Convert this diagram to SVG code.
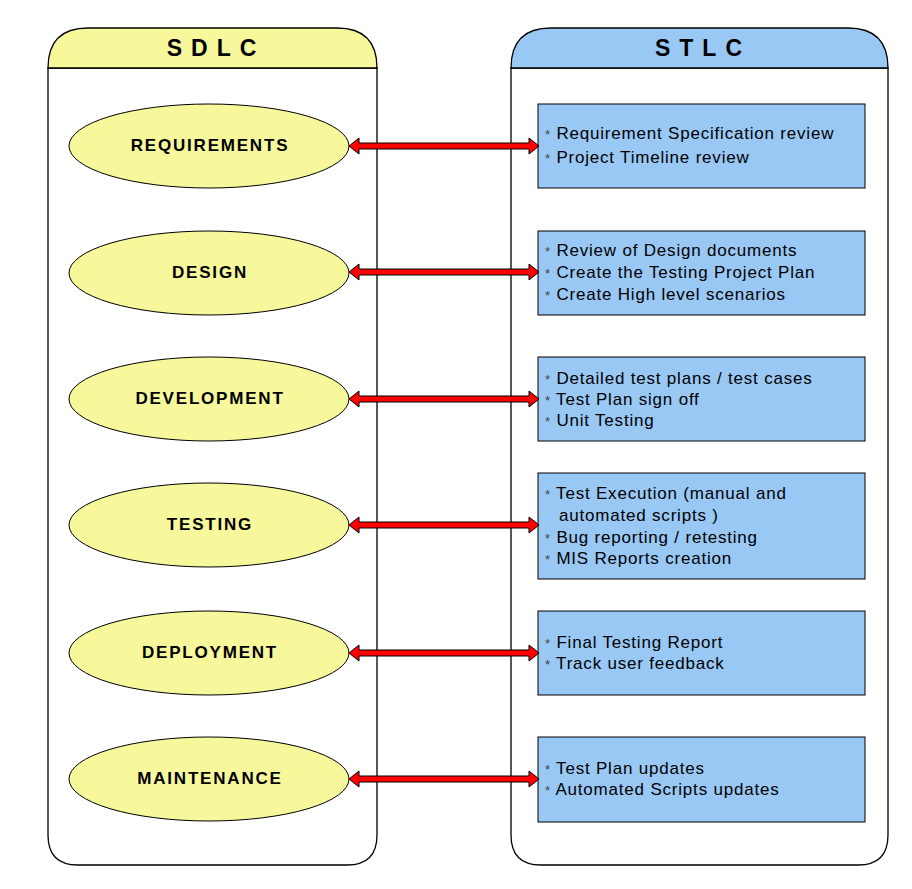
<svg xmlns="http://www.w3.org/2000/svg" width="912" height="889" viewBox="0 0 912 889">
<style>
.panel{fill:#fff;stroke:#000;stroke-width:1.3}
.hdr{stroke:#000;stroke-width:1.3}
.ht{font-family:"Liberation Sans",Arial,sans-serif;font-weight:bold;font-size:23px;text-anchor:middle;letter-spacing:9px}
.ell{fill:#f7f79c;stroke:#000;stroke-width:1}
.et{font-family:"Liberation Sans",Arial,sans-serif;font-weight:bold;font-size:17px;text-anchor:middle;letter-spacing:1.8px}
.box{fill:#99c8f5;stroke:#000;stroke-width:1}
.bt{font-family:"Liberation Sans",Arial,sans-serif;font-size:17px;letter-spacing:0.8px}
.ast{fill:#444;font-size:13px}
.arr{fill:#f00;stroke:#000;stroke-width:1}
</style>
<g id="sdlc">
<path class="panel" d="M48,68 V835 Q48,865 78,865 H347 Q377,865 377,835 V68 Z"/>
<path class="hdr" fill="#f7f79c" d="M48,68 V68 Q48,28 88,28 H337 Q377,28 377,68 Z"/>
<text class="ht" x="216" y="56">SDLC</text>
</g>
<g id="stlc">
<path class="panel" d="M511,68 V835 Q511,865 541,865 H858 Q888,865 888,835 V68 Z"/>
<path class="hdr" fill="#99c8f5" d="M511,68 Q511,28 551,28 H848 Q888,28 888,68 Z"/>
<text class="ht" x="703" y="56">STLC</text>
</g>
<g id="n1"><ellipse class="ell" cx="209" cy="146" rx="140" ry="42"/><text class="et" x="210" y="151">REQUIREMENTS</text></g>
<g id="n2"><ellipse class="ell" cx="209" cy="273" rx="140" ry="42"/><text class="et" x="210" y="278">DESIGN</text></g>
<g id="n3"><ellipse class="ell" cx="209" cy="399" rx="140" ry="42"/><text class="et" x="210" y="404">DEVELOPMENT</text></g>
<g id="n4"><ellipse class="ell" cx="209" cy="525" rx="140" ry="42"/><text class="et" x="210" y="530">TESTING</text></g>
<g id="n5"><ellipse class="ell" cx="209" cy="653" rx="140" ry="42"/><text class="et" x="210" y="658">DEPLOYMENT</text></g>
<g id="n6"><ellipse class="ell" cx="209" cy="779" rx="140" ry="42"/><text class="et" x="210" y="784">MAINTENANCE</text></g>
<g id="b1"><rect class="box" x="538" y="104" width="327" height="84"/>
<text class="bt" x="545" y="139"><tspan class="ast">*</tspan> Requirement Specification review</text>
<text class="bt" x="545" y="163"><tspan class="ast">*</tspan> Project Timeline review</text></g>
<g id="b2"><rect class="box" x="538" y="231" width="327" height="84"/>
<text class="bt" x="545" y="256"><tspan class="ast">*</tspan> Review of Design documents</text>
<text class="bt" x="545" y="278"><tspan class="ast">*</tspan> Create the Testing Project Plan</text>
<text class="bt" x="545" y="300"><tspan class="ast">*</tspan> Create High level scenarios</text></g>
<g id="b3"><rect class="box" x="538" y="357" width="327" height="84"/>
<text class="bt" x="545" y="384"><tspan class="ast">*</tspan> Detailed test plans / test cases</text>
<text class="bt" x="545" y="405"><tspan class="ast">*</tspan> Test Plan sign off</text>
<text class="bt" x="545" y="426"><tspan class="ast">*</tspan> Unit Testing</text></g>
<g id="b4"><rect class="box" x="538" y="473" width="327" height="106"/>
<text class="bt" x="545" y="499"><tspan class="ast">*</tspan> Test Execution (manual and</text>
<text class="bt" x="559" y="521">automated scripts )</text>
<text class="bt" x="545" y="543"><tspan class="ast">*</tspan> Bug reporting / retesting</text>
<text class="bt" x="545" y="564"><tspan class="ast">*</tspan> MIS Reports creation</text></g>
<g id="b5"><rect class="box" x="538" y="611" width="327" height="84"/>
<text class="bt" x="545" y="648"><tspan class="ast">*</tspan> Final Testing Report</text>
<text class="bt" x="545" y="669"><tspan class="ast">*</tspan> Track user feedback</text></g>
<g id="b6"><rect class="box" x="538" y="737" width="327" height="85"/>
<text class="bt" x="545" y="774"><tspan class="ast">*</tspan> Test Plan updates</text>
<text class="bt" x="545" y="795"><tspan class="ast">*</tspan> Automated Scripts updates</text></g>
<defs>
<path id="ar" class="arr" d="M349,0 L359,-8 V-3 H529 V-8 L539,0 L529,8 V3 H359 V8 Z"/>
</defs>
<g id="connectors">
<use href="#ar" y="146"/>
<use href="#ar" y="272"/>
<use href="#ar" y="399"/>
<use href="#ar" y="525"/>
<use href="#ar" y="653"/>
<use href="#ar" y="779"/>
</g>
</svg>
